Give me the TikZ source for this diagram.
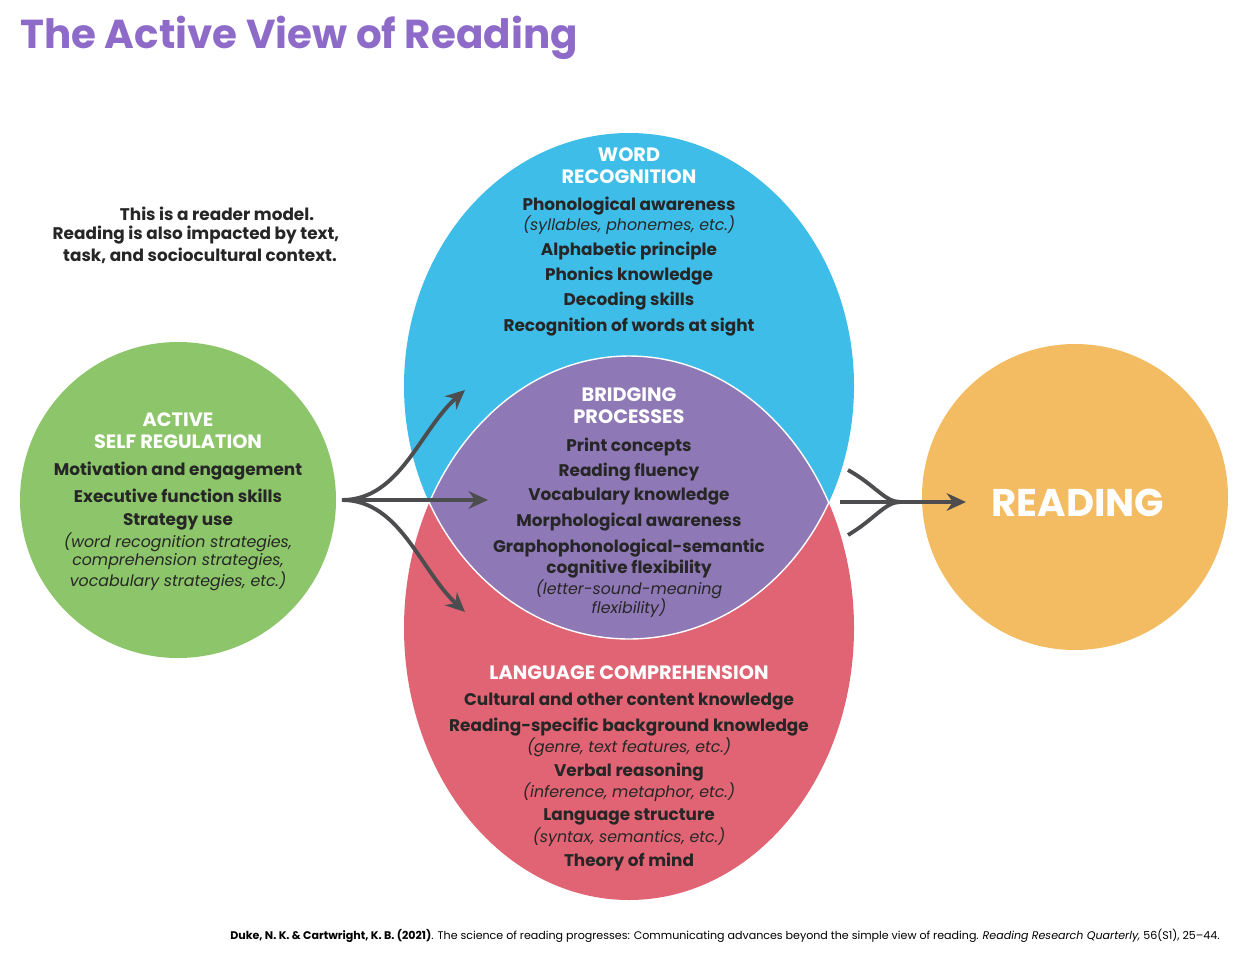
\documentclass[tikz,border=0pt]{standalone}
\usepackage{fontspec}
\setmainfont{Poppins}
\usetikzlibrary{arrows.meta}
\definecolor{ttl}{HTML}{8E6BC8}
\definecolor{cblue}{HTML}{3EBDE8}
\definecolor{cred}{HTML}{E06473}
\definecolor{cpurp}{HTML}{8F78B6}
\definecolor{cgreen}{HTML}{8DC66A}
\definecolor{corange}{HTML}{F3BC62}
\definecolor{arr}{HTML}{4D4D4F}
\begin{document}
\begin{tikzpicture}[x=0.02cm,y=-0.02cm,
 hd/.style={font=\bfseries\fontsize{11}{12}\selectfont,text=white,inner sep=0},
 tx/.style={font=\fontsize{9.6}{11}\selectfont\bfseries,text=black!85,inner sep=0},
 it/.style={font=\fontsize{9}{10}\selectfont\itshape,text=black!85,inner sep=0},
 ar/.style={draw=arr,line width=2.2pt,-{Stealth[length=11pt,width=10pt]}}]
\useasboundingbox (0,0) rectangle (1250,960);
\fill[white] (0,0) rectangle (1250,960);
\node[anchor=west,inner sep=0,text=ttl,font=\bfseries\fontsize{23}{26}\selectfont] (title) at (20,38) {The Active View of Reading};
% shapes
\fill[cblue] (629,386) ellipse [x radius=225,y radius=253];
\fill[cred] (629,628) ellipse [x radius=225,y radius=272];
\begin{scope}
\clip (629,386) ellipse [x radius=225,y radius=253];
\fill[cpurp,draw=white,line width=0.8pt] (629,628) ellipse [x radius=225,y radius=272];
\end{scope}
\begin{scope}
\clip (629,628) ellipse [x radius=225,y radius=272];
\draw[white,line width=0.8pt] (629,386) ellipse [x radius=225,y radius=253];
\end{scope}
\fill[cgreen] (178,500) circle [radius=158];
\fill[corange] (1075,497) circle [radius=153];
% arrows
\coordinate (s) at (342,500);
\coordinate (ta) at (465,390);
\coordinate (tb) at (488,500);
\coordinate (tc) at (465,612);
\draw[ar] (s) .. controls (400,500) and (420,430) .. (ta);
\draw[ar] (s) -- (tb);
\draw[ar] (s) .. controls (400,500) and (420,570) .. (tc);
\coordinate (r1) at (848,470);
\coordinate (r2) at (848,535);
\coordinate (rm) at (900,502);
\coordinate (re) at (966,502);
\draw[draw=arr,line width=2.2pt] (r1) .. controls (875,485) and (885,502) .. (rm);
\draw[draw=arr,line width=2.2pt] (r2) .. controls (875,519) and (885,502) .. (rm);
\draw[ar] (840,502) -- (re);
\node[inner sep=0,text=white,font=\bfseries\fontsize{22}{24}\selectfont] (read) at (1078,503) {READING};
% note
\node[tx] (n1) at (217,214) {This is a reader model.};
\node[tx] (n2) at (196,235) {Reading is also impacted by text,};
\node[tx] (n3) at (200,256) {task, and sociocultural context.};
% word recognition
\node[hd] (w0) at (629,155) {WORD};
\node[hd] (w00) at (629,177) {RECOGNITION};
\node[tx] (w1) at (629,206) {Phonological awareness};
\node[it] (w2) at (629,225) {(syllables, phonemes, etc.)};
\node[tx] (w3) at (629,251) {Alphabetic principle};
\node[tx] (w4) at (629,276) {Phonics knowledge};
\node[tx] (w5) at (629,301) {Decoding skills};
\node[tx] (w6) at (629,327) {Recognition of words at sight};
% bridging
\node[hd] (b0) at (629,395) {BRIDGING};
\node[hd] (b00) at (629,417) {PROCESSES};
\node[tx] (b1) at (629,447) {Print concepts};
\node[tx] (b2) at (629,472) {Reading fluency};
\node[tx] (b3) at (629,497) {Vocabulary knowledge};
\node[tx] (b4) at (629,522) {Morphological awareness};
\node[tx] (b5) at (629,548) {Graphophonological-semantic};
\node[tx] (b6) at (629,569) {cognitive flexibility};
\node[it] (b7) at (629,589) {(letter-sound-meaning};
\node[it] (b8) at (629,608) {flexibility)};
% language
\node[hd] (l0) at (629,673) {LANGUAGE COMPREHENSION};
\node[tx] (l1) at (629,702) {Cultural and other content knowledge};
\node[tx] (l2) at (629,727) {Reading-specific background knowledge};
\node[it] (l3) at (629,747) {(genre, text features, etc.)};
\node[tx] (l4) at (629,772) {Verbal reasoning};
\node[it] (l5) at (629,792) {(inference, metaphor, etc.)};
\node[tx] (l6) at (629,817) {Language structure};
\node[it] (l7) at (629,837) {(syntax, semantics, etc.)};
\node[tx] (l8) at (629,862) {Theory of mind};
% active
\node[hd] (a0) at (178,420) {ACTIVE};
\node[hd] (a00) at (178,442) {SELF REGULATION};
\node[tx] (a1) at (178,471) {Motivation and engagement};
\node[tx] (a2) at (178,496) {Executive function skills};
\node[tx] (a3) at (178,522) {Strategy use};
\node[it] (a4) at (178,542) {(word recognition strategies,};
\node[it] (a5) at (178,562) {comprehension strategies,};
\node[it] (a6) at (178,581) {vocabulary strategies, etc.)};
% citation
\node[anchor=east,inner sep=0,font=\fontsize{6.3}{7}\selectfont] (cit) at (1220,936) {\textbf{Duke, N. K. \& Cartwright, K. B. (2021)}. The science of reading progresses: Communicating advances beyond the simple view of reading. \textit{Reading Research Quarterly,} 56(S1), 25–44.};
\end{tikzpicture}
\end{document}
